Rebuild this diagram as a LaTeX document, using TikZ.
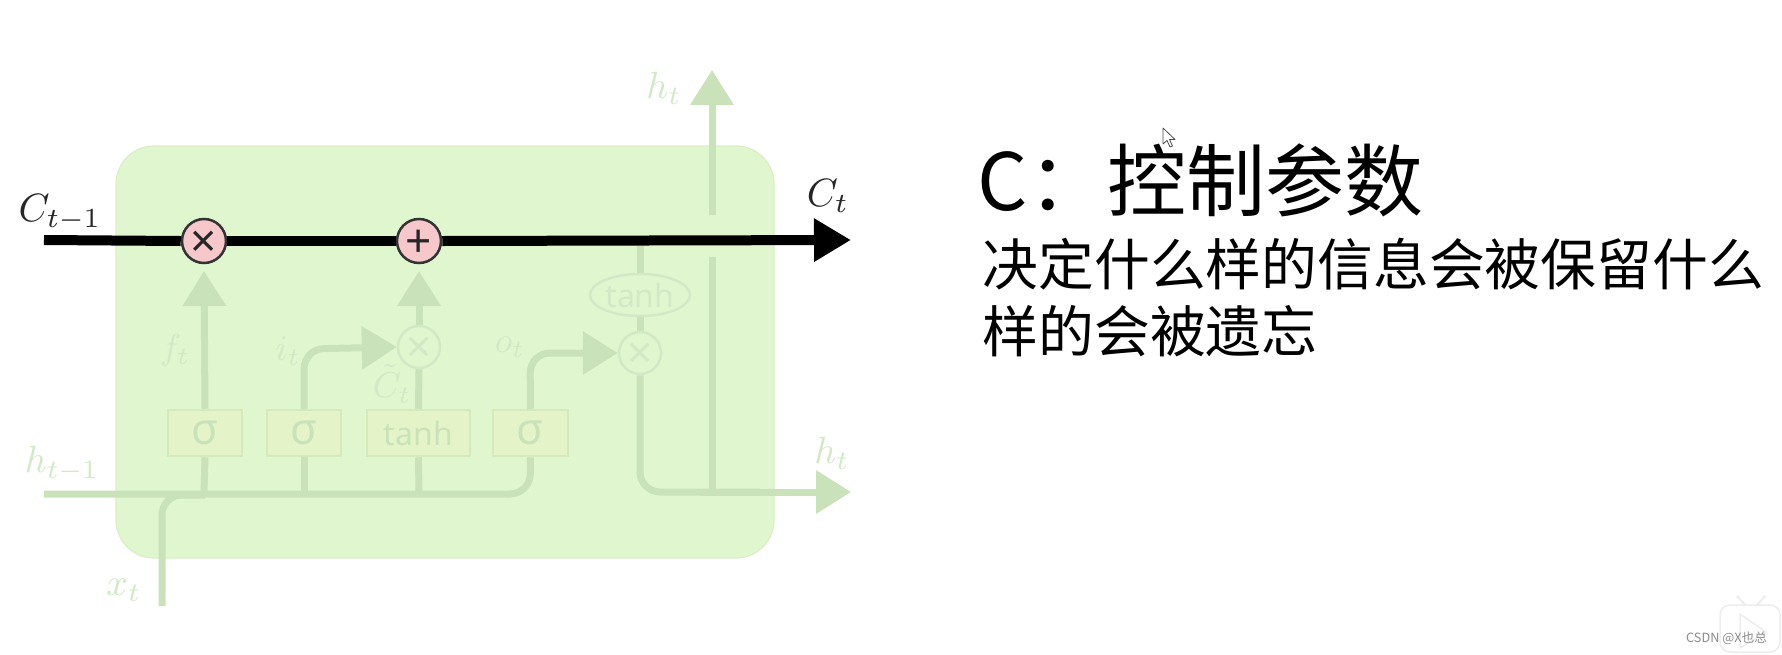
\documentclass[tikz,border=0pt]{standalone}
\usepackage{graphicx}
\usepackage{fontspec}
\setsansfont{Noto Sans}
\newfontfamily\cjk{Noto Sans CJK SC}
\usetikzlibrary{arrows.meta,shapes.geometric}
\definecolor{cellgreen}{HTML}{E0F6CF}
\definecolor{celledge}{HTML}{D9F0C6}
\definecolor{fade}{HTML}{CAE2BA}
\definecolor{fadetext}{HTML}{D3E8C6}
\definecolor{boxfill}{HTML}{E4F4C8}
\definecolor{boxedge}{HTML}{D5EABC}
\definecolor{pinkop}{HTML}{F6C8CC}
\definecolor{wm}{HTML}{8C8C8C}
\definecolor{iconedge}{HTML}{EDEDED}
\newcommand{\fsz}[1]{\fontsize{#1}{#1}\selectfont}
\newcommand{\mlab}[2][3.8]{\scalebox{#1}{$#2$}}
\newcommand{\opglyph}[1]{\smash{\makebox[0pt]{\raisebox{-0.36em}{#1}}}}
\tikzset{
  cell/.style={draw=celledge,line width=1.2pt,fill=cellgreen,rounded corners=38pt,minimum width=658pt,minimum height=412pt,inner sep=0pt},
  weak/.style={draw=fade,line width=7pt,rounded corners=20pt},
  weakarrow/.style={weak,-{Triangle[length=35pt,width=42pt]}},
  strong/.style={draw=black,line width=10pt},
  strongarrow/.style={strong,-{Triangle[length=37pt,width=41pt]}},
  layerbox/.style={draw=boxedge,line width=2.5pt,fill=boxfill,inner sep=0pt,minimum height=46pt,text=fade,font=\sffamily\fsz{44}},
  tanhbox/.style={layerbox,font=\sffamily\fsz{32}},
  hotop/.style={circle,draw=black!80,line width=2.5pt,fill=pinkop,minimum size=44pt,inner sep=0pt,font=\sffamily\fsz{46},text=black!85},
  coldop/.style={circle,draw=fadetext,line width=2.5pt,fill=cellgreen,minimum size=42pt,inner sep=0pt,font=\sffamily\fsz{44},text=fadetext},
  lab/.style={inner sep=0pt,text=black!85},
  fadelab/.style={inner sep=0pt,text=fadetext},
  title/.style={inner sep=0pt,anchor=base west,font=\cjk\fsz{79}},
  body/.style={inner sep=0pt,anchor=base west,font=\cjk\fsz{55.8}}
}
\begin{document}
\begin{tikzpicture}[x=1pt,y=-1pt]
\useasboundingbox (0,0) rectangle (1782,654);
\fill[white] (0,0) rectangle (1782,654);
% cell
\node[cell] (cellbox) at (445,352) {};
% free coordinates
\coordinate (cin) at (44,240);
\coordinate (cout) at (851,240);
\coordinate (hin) at (44,494);
\coordinate (xin) at (162,606);
\coordinate (hupgapb) at (712,257);
\coordinate (hupgapa) at (712,215);
\coordinate (hup) at (712,70);
\coordinate (hout) at (851,492);
\coordinate (tanhtop) at (640,246);
% nodes of the cell
\node[layerbox,minimum width=74pt] (s1) at (205,433) {σ};
\node[layerbox,minimum width=74pt] (s2) at (304,433) {σ};
\node[tanhbox,minimum width=103pt] (t1) at (418.5,433) {tanh};
\node[layerbox,minimum width=75pt] (s3) at (530.5,433) {σ};
\node[coldop] (m1) at (419,347) {\opglyph{×}};
\node[coldop] (m2) at (640,353) {\opglyph{×}};
\node[draw=fadetext,line width=2.5pt,fill=cellgreen,ellipse,minimum width=100pt,minimum height=42pt,inner sep=0pt,font=\sffamily\fsz{32},text=fadetext] (t2) at (640,295) {tanh};
\node[hotop] (fx) at (204,241) {\opglyph{×}};
\node[hotop] (fp) at (419,241) {\opglyph{+}};
% weak connectors
\draw[weak] (hin) -- (530,494) -- (s3.south);
\draw[weak] (xin) -- (162,495) -- (205,495);
\draw[weak] (s1.south) -- (204,494);
\draw[weak] (s2.south) -- (304,494);
\draw[weak] (t1.south) -- (419,494);
\draw[weakarrow] (s1.north) -- (204,271);
\draw[weakarrow] (m1.north) -- (419,271);
\draw[weak] (t1.north) -- (m1.south);
\draw[weakarrow] (s2.north) -- (304,349) -- (m1.west);
\draw[weakarrow] (s3.north) -- (530,353) -- (m2.west);
\draw[weak] (m2.south) -- (640,492) -- (760,492);
\draw[weakarrow] (700,492) -- (hout);
\draw[weak] (712,492) -- (hupgapb);
\draw[weakarrow] (hupgapa) -- (hup);
\draw[weak] (tanhtop) -- (t2.north);
\draw[weak] (t2.south) -- (m2.north);
% strong line
\draw[strong] (cin) -- (fx.west);
\draw[strong] (fx.east) -- (fp.west);
\draw[strongarrow] (fp.east) -- (cout);
% labels
\node[lab] (lc1) at (60,213) {\mlab[3.95]{C_{t-1}}};
\node[lab] (lc2) at (828,196) {\mlab[3.95]{C_t}};
\node[fadelab] (lh1) at (62,464) {\mlab{h_{t-1}}};
\node[fadelab] (lh2) at (664,88) {\mlab{h_t}};
\node[fadelab] (lh3) at (832,453) {\mlab{h_t}};
\node[fadelab] (lx) at (124,590) {\mlab{x_t}};
\node[fadelab] (lf) at (175,350) {\mlab[3.6]{f_t}};
\node[fadelab] (li) at (288,351) {\mlab[3.6]{i_t}};
\node[fadelab] (lo) at (510,347) {\mlab[3.6]{o_t}};
\node[fadelab] (lct) at (392,384) {\mlab[3.6]{\tilde{C}_t}};
% text
\node[title] (head) at (977.5,210) {C：控制参数};
\node[body] (line1) at (982.5,285) {决定什么样的信息会被保留什么};
\node[body] (line2) at (982.5,352) {样的会被遗忘};
% mouse pointer
\draw[draw=black!70,fill=white,line width=.8pt,line join=round] (1163,128) -- (1163,144) -- (1167,140.5) -- (1170,147) -- (1172.5,146) -- (1169.5,139.5) -- (1175,139.5) -- cycle;
% player icon and watermark
\draw[iconedge,line width=2pt,line cap=round] (1737,596) -- (1746,606) (1765,596) -- (1756,606);
\draw[draw=iconedge,fill=white,line width=1.5pt,rounded corners=10pt] (1720,605) rectangle (1780,652);
\draw[draw=iconedge,fill=white,line width=1.5pt,line join=round] (1740,614) -- (1766,632) -- (1740,648) -- cycle;
\node[inner sep=0pt,anchor=base west,text=wm,font=\cjk\fsz{12.7}] (mark) at (1686,642) {CSDN @X也总};
\end{tikzpicture}
\end{document}
